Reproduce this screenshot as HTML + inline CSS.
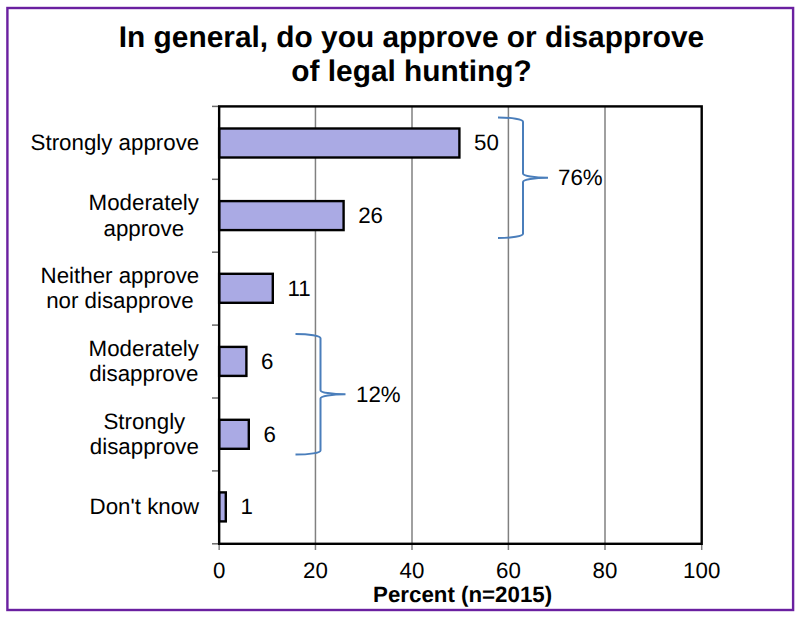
<!DOCTYPE html>
<html><head><meta charset="utf-8"><style>
html,body{margin:0;padding:0;background:#fff;width:800px;height:617px;overflow:hidden}
svg{display:block}
text{font-family:"Liberation Sans",sans-serif;font-size:22.3px;fill:#000;text-rendering:geometricPrecision}
</style></head><body>
<svg width="800" height="617" viewBox="0 0 800 617">
<rect x="7.4" y="8.0" width="785.7" height="602.0" fill="none" stroke="#6a20a0" stroke-width="2.4"/>
<text x="411.5" y="47" style="font-size:29.85px;font-weight:bold" text-anchor="middle">In general, do you approve or disapprove</text>
<text x="411.5" y="80.5" style="font-size:29.85px;font-weight:bold" text-anchor="middle">of legal hunting?</text>
<line x1="315.45" y1="106.4" x2="315.45" y2="550.0" stroke="#808080" stroke-width="1.5"/>
<line x1="412.00" y1="106.4" x2="412.00" y2="550.0" stroke="#808080" stroke-width="1.5"/>
<line x1="508.40" y1="106.4" x2="508.40" y2="550.0" stroke="#808080" stroke-width="1.5"/>
<line x1="605.00" y1="106.4" x2="605.00" y2="550.0" stroke="#808080" stroke-width="1.5"/>
<line x1="219.15" y1="543.8" x2="219.15" y2="550.0" stroke="#808080" stroke-width="1.5"/>
<line x1="701.70" y1="543.8" x2="701.70" y2="550.0" stroke="#808080" stroke-width="1.5"/>
<line x1="212" y1="106.40" x2="219.15" y2="106.40" stroke="#6a6a6a" stroke-width="1.5"/>
<line x1="212" y1="179.30" x2="219.15" y2="179.30" stroke="#6a6a6a" stroke-width="1.5"/>
<line x1="212" y1="252.20" x2="219.15" y2="252.20" stroke="#6a6a6a" stroke-width="1.5"/>
<line x1="212" y1="325.10" x2="219.15" y2="325.10" stroke="#6a6a6a" stroke-width="1.5"/>
<line x1="212" y1="398.00" x2="219.15" y2="398.00" stroke="#6a6a6a" stroke-width="1.5"/>
<line x1="212" y1="470.90" x2="219.15" y2="470.90" stroke="#6a6a6a" stroke-width="1.5"/>
<line x1="212" y1="543.80" x2="219.15" y2="543.80" stroke="#6a6a6a" stroke-width="1.5"/>
<rect x="219.15" y="128.50" width="240.25" height="29.00" fill="#aaaae4" stroke="#000" stroke-width="2.4"/>
<rect x="219.15" y="201.10" width="124.45" height="29.00" fill="#aaaae4" stroke="#000" stroke-width="2.4"/>
<rect x="219.15" y="273.80" width="53.65" height="29.00" fill="#aaaae4" stroke="#000" stroke-width="2.4"/>
<rect x="219.15" y="346.90" width="27.25" height="29.00" fill="#aaaae4" stroke="#000" stroke-width="2.4"/>
<rect x="219.15" y="419.80" width="29.65" height="29.00" fill="#aaaae4" stroke="#000" stroke-width="2.4"/>
<rect x="219.15" y="492.40" width="6.65" height="29.00" fill="#aaaae4" stroke="#000" stroke-width="2.4"/>
<rect x="219.15" y="106.4" width="482.55" height="437.40" fill="none" stroke="#000" stroke-width="2.4"/>
<text x="199.2" y="150.20" text-anchor="end">Strongly approve</text>
<text x="143.78" y="210.10" text-anchor="middle">Moderately</text>
<text x="143.78" y="235.50" text-anchor="middle">approve</text>
<text x="119.93" y="282.80" text-anchor="middle">Neither approve</text>
<text x="119.93" y="308.20" text-anchor="middle">nor disapprove</text>
<text x="143.78" y="355.90" text-anchor="middle">Moderately</text>
<text x="143.78" y="381.30" text-anchor="middle">disapprove</text>
<text x="144.38" y="428.80" text-anchor="middle">Strongly</text>
<text x="144.38" y="454.20" text-anchor="middle">disapprove</text>
<text x="199.2" y="514.10" text-anchor="end">Don&#39;t know</text>
<text x="474.00" y="150.20">50</text>
<text x="358.20" y="222.80">26</text>
<text x="287.40" y="295.50">11</text>
<text x="261.00" y="368.60">6</text>
<text x="263.40" y="441.50">6</text>
<text x="240.40" y="514.10">1</text>
<text x="219.15" y="577.8" text-anchor="middle">0</text>
<text x="315.45" y="577.8" text-anchor="middle">20</text>
<text x="412.00" y="577.8" text-anchor="middle">40</text>
<text x="508.40" y="577.8" text-anchor="middle">60</text>
<text x="605.00" y="577.8" text-anchor="middle">80</text>
<text x="701.70" y="577.8" text-anchor="middle">100</text>
<text x="462.6" y="601.8" style="font-weight:bold" text-anchor="middle">Percent (n=2015)</text>
<path d="M498 117.5 A25.0 4.17 0 0 1 523.0 121.67 L523.0 173.58 A25.0 4.17 0 0 0 548 177.75 A25.0 4.17 0 0 0 523.0 181.92 L523.0 233.83 A25.0 4.17 0 0 1 498 238" fill="none" stroke="#4a7ebb" stroke-width="2"/>
<path d="M295.5 334 A25.0 4.17 0 0 1 320.5 338.17 L320.5 390.13 A25.0 4.17 0 0 0 345.5 394.3 A25.0 4.17 0 0 0 320.5 398.47 L320.5 450.43 A25.0 4.17 0 0 1 295.5 454.6" fill="none" stroke="#4a7ebb" stroke-width="2"/>
<text x="558.0" y="185.4">76%</text>
<text x="356.0" y="402.2">12%</text>
</svg>
</body></html>
